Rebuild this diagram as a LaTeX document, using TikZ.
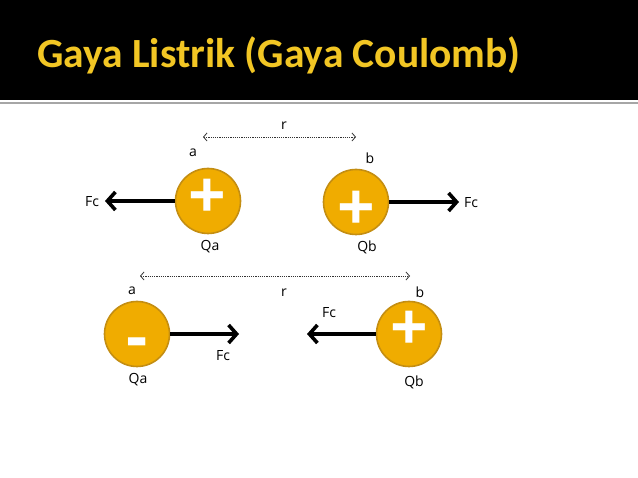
\documentclass[tikz,border=0pt]{standalone}
\usepackage{fontspec}
\setmainfont{Open Sans}
\newfontfamily\titlefont{Carlito}
\usetikzlibrary{arrows.meta}
\definecolor{titleyellow}{RGB}{242,198,36}
\definecolor{chargefill}{RGB}{240,172,0}
\definecolor{chargeedge}{RGB}{196,142,18}
\begin{document}
\begin{tikzpicture}[x=1pt,y=-1pt,
  charge/.style={circle,draw=chargeedge,line width=1.6pt,fill=chargefill,minimum size=65pt,inner sep=0pt},
  sign/.style={text=white,font=\bfseries\fontsize{66}{66}\selectfont,inner sep=0pt},
  lbl/.style={font=\fontsize{14}{14}\selectfont,inner sep=0pt,text=black},
  force/.style={line width=3.6pt,-{Straight Barb[length=8pt,width=18pt,line width=3.6pt]}},
  dist/.style={dash pattern=on 1.3pt off 0.9pt,line width=0.8pt,black!80,{Straight Barb[length=3.5pt,width=8pt,line width=0.8pt]}-{Straight Barb[length=3.5pt,width=8pt,line width=0.8pt]}}
]
\useasboundingbox (0,0) rectangle (638,478);
\fill[white] (0,0) rectangle (638,478);
\fill[black] (0,0) rectangle (638,100);
\draw[line width=2pt,black!35] (0,103) -- (638,103);
\node[anchor=base west,text=titleyellow,inner sep=0pt,font=\titlefont\bfseries\fontsize{41.5}{41.5}\selectfont] (title) at (37,68) {Gaya Listrik (Gaya Coulomb)};

% top pair
\node[charge] (qa1) at (208,201) {};
\node[charge] (qb1) at (356,202) {};
\node[sign] (sa1) at (207,199) {+};
\node[sign] (sb1) at (356,211) {+};
\coordinate (fl1) at (105,201);
\coordinate (fr1) at (459,202);
\draw[force] (qa1.west) -- (fl1);
\draw[force] (qb1.east) -- (fr1);
\coordinate (d1s) at (203,137);
\coordinate (d1e) at (356,137);
\draw[dist] (d1s) -- (d1e);
\node[lbl] (r1) at (284,126) {r};
\node[lbl] (a1) at (193,153) {a};
\node[lbl] (b1) at (370,158) {b};
\node[lbl] (fcl1) at (92,202) {Fc};
\node[lbl] (fcr1) at (471,203) {Fc};
\node[lbl] (qal1) at (210,247) {Qa};
\node[lbl] (qbl1) at (367,247) {Qb};

% bottom pair
\node[charge] (qa2) at (137,334) {};
\node[charge] (qb2) at (409,334) {};
\node[sign] (sa2) at (137,349) {-};
\node[sign] (sb2) at (409,331) {+};
\coordinate (fa2) at (239,334);
\coordinate (fb2) at (307,334);
\draw[force] (qa2.east) -- (fa2);
\draw[force] (qb2.west) -- (fb2);
\coordinate (d2s) at (140,276);
\coordinate (d2e) at (410,276);
\draw[dist] (d2s) -- (d2e);
\node[lbl] (a2) at (132,291) {a};
\node[lbl] (r2) at (284,293) {r};
\node[lbl] (b2) at (420,292) {b};
\node[lbl] (fca2) at (223,356) {Fc};
\node[lbl] (fcb2) at (329,313) {Fc};
\node[lbl] (qal2) at (138,380) {Qa};
\node[lbl] (qbl2) at (414,382) {Qb};
\end{tikzpicture}
\end{document}
